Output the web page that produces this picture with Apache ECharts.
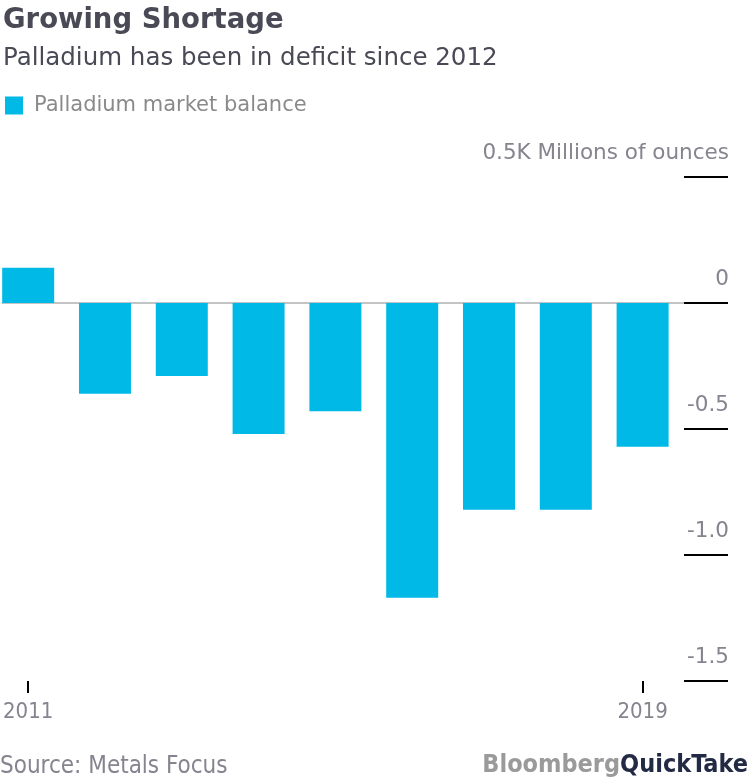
<!DOCTYPE html>
<html>
<head>
<meta charset="utf-8">
<script src="https://cdn.jsdelivr.net/npm/echarts@6/dist/echarts.min.js"></script>
<style>
html, body { margin: 0; padding: 0; background: #fff; }
</style>
</head>
<body>
<div
    id="ch"
    style="width: 750px; height: 780px;"
></div>

<script>
// data
var years = [2011, 2012, 2013, 2014, 2015, 2016, 2017, 2018, 2019]
var balance = [0.14, -0.36, -0.29, -0.52, -0.43, -1.17, -0.82, -0.82, -0.57]
var yTickValues = [0.5, 0, -0.5, -1, -1.5]
var yTickLabels = ['0.5K Millions of ounces', '0', '-0.5', '-1.0', '-1.5']
var xTickValues = [2011, 2019]
var xTickLabels = ['2011', '2019']

var narrow = "'Liberation Sans Narrow', 'DejaVu Sans Condensed', sans-serif"
var sans = "'DejaVu Sans', sans-serif"

var chartInst = echarts.init(document.getElementById('ch'))

var option = {
    animation: false,
    title: [{
        text: 'Growing Shortage',
        left: -2,
        top: 2,
        textStyle: {
            fontFamily: sans,
            fontSize: 27.5,
            fontWeight: 'bold',
            color: '#4a4a57'
        }
    }, {
        text: 'Palladium has been in deficit since 2012',
        left: -2,
        top: 41,
        textStyle: {
            fontFamily: sans,
            fontSize: 24.5,
            fontWeight: 'normal',
            color: '#4a4a57'
        }
    }],
    legend: {
        left: 0,
        top: 90,
        icon: 'rect',
        itemWidth: 18,
        itemHeight: 18,
        textStyle: {
            fontFamily: sans,
            fontSize: 21,
            color: '#8a8a8a',
            padding: [0, 0, 0, 6]
        },
        data: ['Palladium market balance']
    },
    grid: {
        left: 0,
        right: 66,
        top: 177,
        bottom: 99,
        containLabel: false
    },
    xAxis: {
        type: 'value',
        min: 2011 - 26.5 / 77,
        max: 2011 + (684 - 26.5) / 77,
        axisLine: { show: false, onZero: false },
        splitLine: { show: false },
        axisTick: {
            show: true,
            customValues: xTickValues,
            length: 12,
            lineStyle: { color: '#000', width: 2 }
        },
        axisLabel: {
            customValues: xTickValues,
            margin: 20,
            fontFamily: narrow,
            fontSize: 22,
            color: '#85848f',
            formatter: function(v) {
                var i = xTickValues.indexOf(v)
                return i >= 0 ? xTickLabels[i] : ''
            }
        }
    },
    yAxis: {
        type: 'value',
        position: 'right',
        min: -1.5,
        max: 0.5,
        interval: 0.5,
        axisLine: { show: false },
        splitLine: { show: false },
        axisTick: {
            show: true,
            inside: false,
            length: 44,
            lineStyle: { color: '#000', width: 2 }
        },
        axisLabel: {
            margin: 45,
            align: 'right',
            verticalAlign: 'bottom',
            padding: [0, 0, 13, 0],
            fontFamily: sans,
            fontSize: 21.5,
            color: '#85848f',
            formatter: function(v) {
                for (var i = 0; i < yTickValues.length; i++) {
                    if (Math.abs(yTickValues[i] - v) < 1e-9) return yTickLabels[i]
                }
                return ''
            }
        }
    },
    series: [{
        name: 'Palladium market balance',
        type: 'bar',
        barWidth: 52,
        clip: true,
        itemStyle: { color: '#00b9e7' },
        data: years.map(function(y, i) {
            return [y, balance[i]]
        }),
        markLine: {
            silent: true,
            symbol: 'none',
            label: { show: false },
            lineStyle: { color: '#c4c4c4', width: 2, type: 'solid' },
            z: 1,
            data: [{ yAxis: 0 }]
        }
    }],
    graphic: [{
        type: 'text',
        left: 0,
        top: 755,
        style: {
            text: 'Source: Metals Focus',
            fontFamily: narrow,
            fontSize: 24,
            fill: '#85848f'
        }
    }, {
        type: 'text',
        right: 2,
        top: 753,
        style: {
            text: '{a|Bloomberg}{b|QuickTake}',
            rich: {
                a: { fontFamily: narrow, fontSize: 25, fontWeight: 'bold', fill: '#9a9a9a', color: '#9a9a9a' },
                b: { fontFamily: narrow, fontSize: 25, fontWeight: 'bold', fill: '#222a44', color: '#222a44' }
            }
        }
    }]
}
chartInst.setOption(option)
</script>
</body>
</html>
